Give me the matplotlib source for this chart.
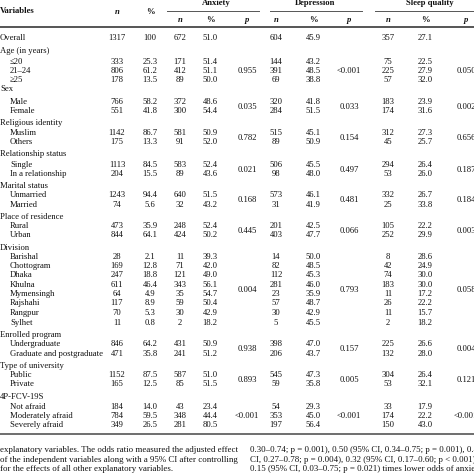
import matplotlib
matplotlib.use('Agg')
import matplotlib.pyplot as plt
from matplotlib.lines import Line2D

plt.rcParams['font.family'] = ['Liberation Serif', 'DejaVu Serif']

# ── table data ──────────────────────────────────────────────────────────────
labels = ['Overall',
          'Age (in years)', '≤20', '21–24', '≥25',
          'Sex', 'Male', 'Female',
          'Religious identity', 'Muslim', 'Others',
          'Relationship status', 'Single', 'In a relationship',
          'Marital status', 'Unmarried', 'Married',
          'Place of residence', 'Rural', 'Urban',
          'Division', 'Barishal', 'Chottogram', 'Dhaka', 'Khulna', 'Mymensingh',
          'Rajshahi', 'Rangpur', 'Sylhet',
          'Enrolled program', 'Undergraduate', 'Graduate and postgraduate',
          'Type of university', 'Public', 'Private',
          '4P-FCV-19S', 'Not afraid', 'Moderately afraid', 'Severely afraid']
row_y = [38, 51, 62, 71, 80, 89, 102, 111, 123, 133, 142, 154, 165, 174,
         186, 195, 205, 217, 226, 235, 248, 257, 266, 275, 285, 294, 303, 313, 323,
         335, 344, 354, 366, 375, 384, 397, 407, 416, 425]
groups = {'Age (in years)', 'Sex', 'Religious identity', 'Relationship status',
          'Marital status', 'Place of residence', 'Division', 'Enrolled program',
          'Type of university', '4P-FCV-19S', 'Overall'}

n_all = ['1317', '', '333', '806', '178', '', '766', '551', '', '1142', '175',
         '', '1113', '204', '', '1243', '74', '', '473', '844',
         '', '28', '169', '247', '611', '64', '117', '70', '11',
         '', '846', '471', '', '1152', '165', '', '184', '784', '349']
pct_all = ['100', '', '25.3', '61.2', '13.5', '', '58.2', '41.8', '', '86.7', '13.3',
           '', '84.5', '15.5', '', '94.4', '5.6', '', '35.9', '64.1',
           '', '2.1', '12.8', '18.8', '46.4', '4.9', '8.9', '5.3', '0.8',
           '', '64.2', '35.8', '', '87.5', '12.5', '', '14.0', '59.5', '26.5']
anx_n = ['672', '', '171', '412', '89', '', '372', '300', '', '581', '91',
         '', '583', '89', '', '640', '32', '', '248', '424',
         '', '11', '71', '121', '343', '35', '59', '30', '2',
         '', '431', '241', '', '587', '85', '', '43', '348', '281']
anx_pct = ['51.0', '', '51.4', '51.1', '50.0', '', '48.6', '54.4', '', '50.9', '52.0',
           '', '52.4', '43.6', '', '51.5', '43.2', '', '52.4', '50.2',
           '', '39.3', '42.0', '49.0', '56.1', '54.7', '50.4', '42.9', '18.2',
           '', '50.9', '51.2', '', '51.0', '51.5', '', '23.4', '44.4', '80.5']
dep_n = ['604', '', '144', '391', '69', '', '320', '284', '', '515', '89',
         '', '506', '98', '', '573', '31', '', '201', '403',
         '', '14', '82', '112', '281', '23', '57', '30', '5',
         '', '398', '206', '', '545', '59', '', '54', '353', '197']
dep_pct = ['45.9', '', '43.2', '48.5', '38.8', '', '41.8', '51.5', '', '45.1', '50.9',
           '', '45.5', '48.0', '', '46.1', '41.9', '', '42.5', '47.7',
           '', '50.0', '48.5', '45.3', '46.0', '35.9', '48.7', '42.9', '45.5',
           '', '47.0', '43.7', '', '47.3', '35.8', '', '29.3', '45.0', '56.4']
slp_n = ['357', '', '75', '225', '57', '', '183', '174', '', '312', '45',
         '', '294', '53', '', '332', '25', '', '105', '252',
         '', '8', '42', '74', '183', '11', '26', '11', '2',
         '', '225', '132', '', '304', '53', '', '33', '174', '150']
slp_pct = ['27.1', '', '22.5', '27.9', '32.0', '', '23.9', '31.6', '', '27.3', '25.7',
           '', '26.4', '26.0', '', '26.7', '33.8', '', '22.2', '29.9',
           '', '28.6', '24.9', '30.0', '30.0', '17.2', '22.2', '15.7', '18.2',
           '', '26.6', '28.0', '', '26.4', '32.1', '', '17.9', '22.2', '43.0']

# p-values: (y position in px, anxiety, depression, sleep)
p_rows = [(71, '0.955', '<0.001', '0.050'),
          (107, '0.035', '0.033', '0.002'),
          (138, '0.782', '0.154', '0.656'),
          (170, '0.021', '0.497', '0.187'),
          (200, '0.168', '0.481', '0.184'),
          (231, '0.445', '0.066', '0.003'),
          (290, '0.004', '0.793', '0.058'),
          (349, '0.938', '0.157', '0.004'),
          (380, '0.893', '0.005', '0.121'),
          (416, '<0.001', '<0.001', '<0.001')]

footnote_left = ['explanatory variables. The odds ratio measured the adjusted effect',
                 'of the independent variables along with a 95% CI after controlling',
                 'for the effects of all other explanatory variables.']
footnote_right = ['0.30–0.74; p = 0.001), 0.50 (95% CI, 0.34–0.75; p = 0.001), 0.46 (95%',
                  'CI, 0.27–0.78; p = 0.004), 0.32 (95% CI, 0.17–0.60; p < 0.001), and',
                  '0.15 (95% CI, 0.03–0.75; p = 0.021) times lower odds of anxiety than']

# ── layout ──────────────────────────────────────────────────────────────────
W = H = 474
fig = plt.figure(figsize=(W / 100, H / 100), dpi=100)
FS = 6.2


def T(x, y, s, ha='center', **kw):
    fig.text(x / W, 1 - y / H, s, ha=ha, va='center', fontsize=kw.pop('fs', FS),
             color='#111111', **kw)


def hline(x0, x1, y, lw=0.8):
    fig.add_artist(Line2D([x0 / W, x1 / W], [1 - y / H, 1 - y / H], color='#555555', lw=lw))


col_x = [117, 150, 180, 210, 276, 313, 388, 425]
cols = [n_all, pct_all, anx_n, anx_pct, dep_n, dep_pct, slp_n, slp_pct]
p_x = [247, 349, 466]

# header
T(0, 11, 'Variables', ha='left', fontweight='bold')
T(117, 12, 'n', fontstyle='italic', fontweight='bold')
T(150, 12, '%', fontweight='bold')
for cx, name, x0, x1 in [(216, 'Anxiety', 167, 259), (315, 'Depression', 270, 362),
                         (430, 'Sleep quality', 375, 474)]:
    T(cx, 3, name, fontweight='bold')
    hline(x0, x1, 11, lw=0.7)
for x in (180, 276, 388):
    T(x, 20, 'n', fontstyle='italic', fontweight='bold')
for x in (210, 313, 425):
    T(x, 20, '%', fontweight='bold')
for x in p_x:
    T(x, 20, 'p', fontstyle='italic', fontweight='bold')
hline(0, 474, 27, lw=1.4)

# body
for i, (lab, y) in enumerate(zip(labels, row_y)):
    T(0 if lab in groups else 10, y, lab, ha='left')
    for x, col in zip(col_x, cols):
        if col[i]:
            T(x, y, col[i])
for y, pa, pd_, ps in p_rows:
    for x, s in zip(p_x, (pa, pd_, ps)):
        T(x, y, s)
hline(0, 474, 434, lw=1.2)

# footnote text
for k, (l, r) in enumerate(zip(footnote_left, footnote_right)):
    T(0, 450 + 9.5 * k, l, ha='left', fs=6.4)
    T(250, 450 + 9.5 * k, r, ha='left', fs=6.4)

fig.savefig('out.png', dpi=100)
